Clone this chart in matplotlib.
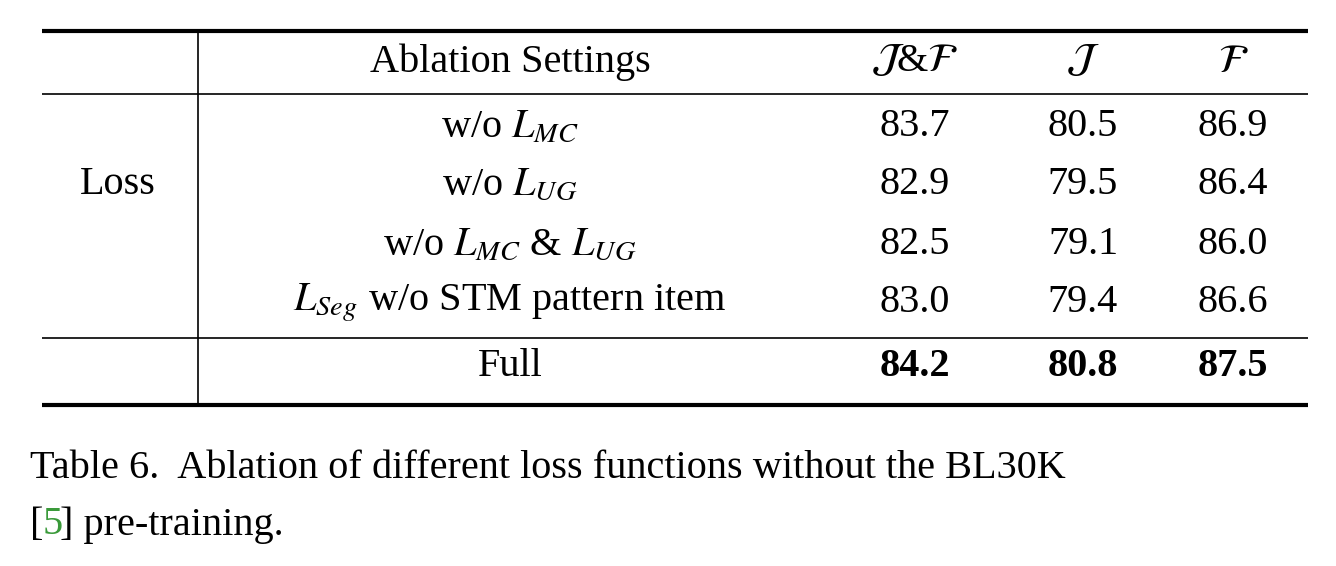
import matplotlib
matplotlib.use("Agg")
from matplotlib import pyplot as plt

plt.rcParams['font.family'] = ['Liberation Serif', 'DejaVu Serif']
plt.rcParams['mathtext.fontset'] = 'stix'

headers = [r"Ablation Settings", r"$\mathcal{J}$&$\mathcal{F}$", r"$\mathcal{J}$", r"$\mathcal{F}$"]
settings = [r"w/o $L_{MC}$", r"w/o $L_{UG}$", r"w/o $L_{MC}$ & $L_{UG}$",
            r"$L_{Seg}$ w/o STM pattern item"]
jf = ["83.7", "82.9", "82.5", "83.0"]
j = ["80.5", "79.5", "79.1", "79.4"]
f = ["86.9", "86.4", "86.0", "86.6"]
full = ["84.2", "80.8", "87.5"]
caption = ["Table 6.  Ablation of different loss functions without the BL30K",
           "[5] pre-training."]

fig = plt.figure(figsize=(13.36, 5.66), dpi=100)
ax = fig.add_axes([0, 0, 1, 1])
ax.set_xlim(0, 1336)
ax.set_ylim(566, 0)
ax.axis("off")

fs = 29
cols = [510, 915, 1083, 1233]
rows = [127, 185, 245, 303]

ax.hlines(31, 42, 1308, color="black", lw=3)
ax.hlines(94, 42, 1308, color="black", lw=1.2)
ax.hlines(338, 42, 1308, color="black", lw=1.2)
ax.hlines(405, 42, 1308, color="black", lw=3)
ax.vlines(198, 31, 405, color="black", lw=1.2)

for x, h in zip(cols, headers):
    ax.text(x, 62, h, fontsize=fs, ha="center", va="center")

ax.text(118, 185, "Loss", fontsize=fs, ha="center", va="center")
for i, y in enumerate(rows):
    ax.text(cols[0], y, settings[i], fontsize=fs, ha="center", va="center")
    ax.text(cols[1], y, jf[i], fontsize=fs, ha="center", va="center")
    ax.text(cols[2], y, j[i], fontsize=fs, ha="center", va="center")
    ax.text(cols[3], y, f[i], fontsize=fs, ha="center", va="center")

ax.text(cols[0], 367, "Full", fontsize=fs, ha="center", va="center")
for x, v in zip(cols[1:], full):
    ax.text(x, 367, v, fontsize=fs, ha="center", va="center", fontweight="bold")

ax.text(30, 468, caption[0], fontsize=fs, ha="left", va="center")
ax.text(30, 525, "[", fontsize=fs, ha="left", va="center")
ax.text(43, 525, "5", fontsize=fs, ha="left", va="center", color="#3a9a3a")
ax.text(60, 525, "] pre-training.", fontsize=fs, ha="left", va="center")

fig.savefig("out.png", dpi=100)
